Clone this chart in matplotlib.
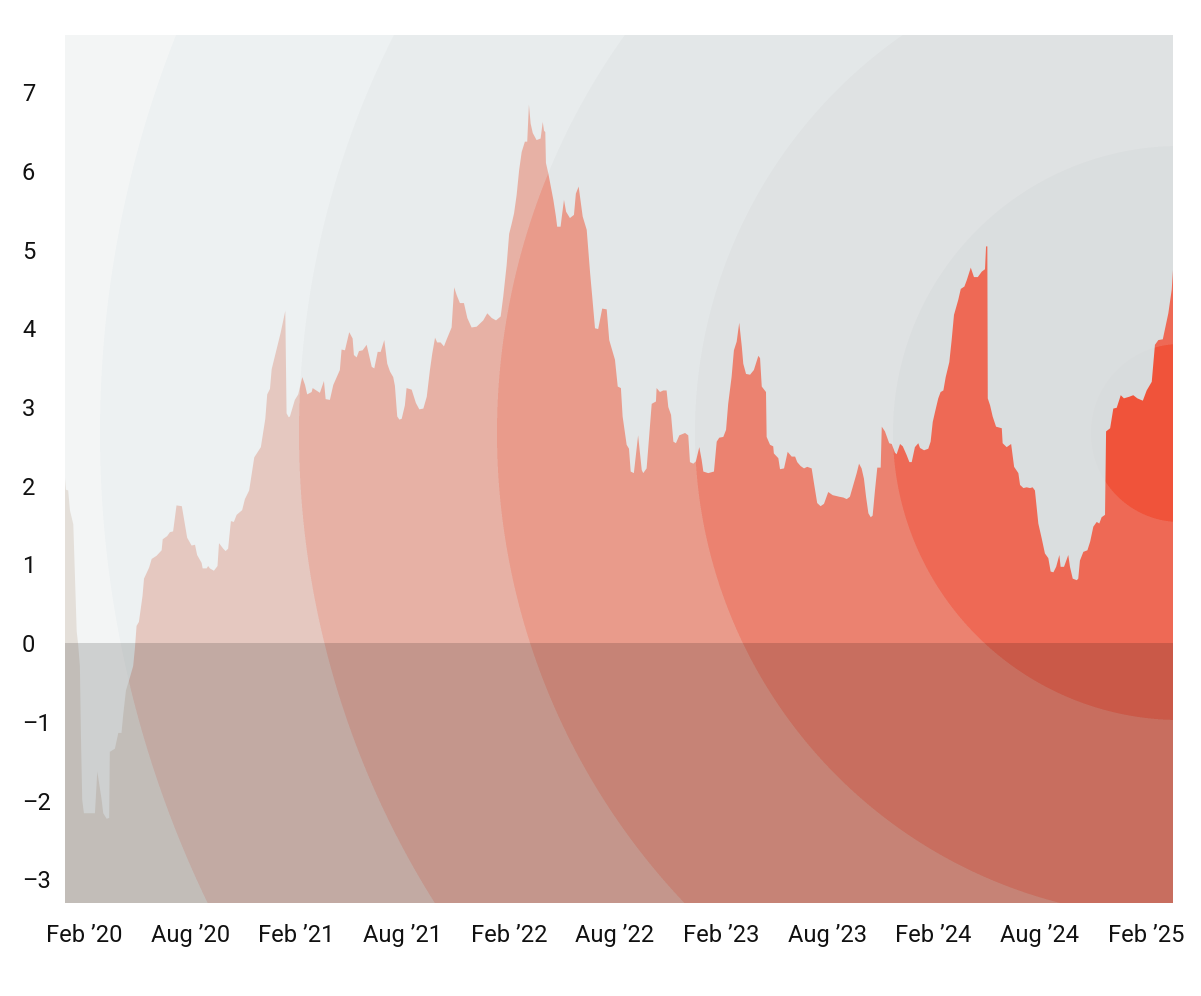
import numpy as np
import matplotlib
matplotlib.use("Agg")
import matplotlib.pyplot as plt
from matplotlib import font_manager
from matplotlib.colors import to_rgb
from matplotlib.patches import Polygon

# series (x in fractional years)
years = [
    2019.994, 2019.998, 2020.009, 2020.017, 2020.033, 2020.049, 2020.056, 2020.064, 2020.069, 2020.075,
    2020.083, 2020.127, 2020.135, 2020.146, 2020.166, 2020.174, 2020.190, 2020.202, 2020.205, 2020.229,
    2020.245, 2020.260, 2020.268, 2020.281, 2020.300, 2020.315, 2020.323, 2020.331, 2020.342, 2020.359,
    2020.366, 2020.390, 2020.402, 2020.425, 2020.449, 2020.454, 2020.475, 2020.488, 2020.503, 2020.519,
    2020.544, 2020.569, 2020.590, 2020.606, 2020.616, 2020.637, 2020.642, 2020.661, 2020.668, 2020.676,
    2020.695, 2020.712, 2020.719, 2020.739, 2020.750, 2020.762, 2020.775, 2020.789, 2020.802, 2020.828,
    2020.841, 2020.861, 2020.885, 2020.916, 2020.937, 2020.946, 2020.959, 2020.967, 2021.009, 2021.031,
    2021.037, 2021.047, 2021.053, 2021.076, 2021.092, 2021.111, 2021.124, 2021.134, 2021.155, 2021.160,
    2021.194, 2021.213, 2021.221, 2021.241, 2021.257, 2021.288, 2021.296, 2021.312, 2021.332, 2021.348,
    2021.354, 2021.367, 2021.378, 2021.395, 2021.414, 2021.438, 2021.450, 2021.466, 2021.480, 2021.497,
    2021.511, 2021.524, 2021.539, 2021.547, 2021.558, 2021.568, 2021.579, 2021.594, 2021.602, 2021.626,
    2021.646, 2021.662, 2021.681, 2021.697, 2021.712, 2021.723, 2021.736, 2021.746, 2021.762, 2021.778,
    2021.791, 2021.814, 2021.826, 2021.838, 2021.853, 2021.872, 2021.888, 2021.908, 2021.932, 2021.963,
    2021.982, 2022.003, 2022.023, 2022.045, 2022.057, 2022.073, 2022.085, 2022.097, 2022.108, 2022.120,
    2022.132, 2022.144, 2022.159, 2022.170, 2022.178, 2022.186, 2022.196, 2022.214, 2022.233, 2022.243,
    2022.249, 2022.255, 2022.258, 2022.269, 2022.293, 2022.305, 2022.311, 2022.327, 2022.332, 2022.343,
    2022.353, 2022.371, 2022.390, 2022.399, 2022.412, 2022.431, 2022.450, 2022.466, 2022.476, 2022.489,
    2022.504, 2022.523, 2022.544, 2022.556, 2022.583, 2022.596, 2022.611, 2022.619, 2022.638, 2022.649,
    2022.657, 2022.672, 2022.692, 2022.709, 2022.716, 2022.732, 2022.740, 2022.756, 2022.776, 2022.779,
    2022.795, 2022.810, 2022.826, 2022.834, 2022.847, 2022.858, 2022.870, 2022.886, 2022.913, 2022.928,
    2022.936, 2022.952, 2022.964, 2022.980, 2022.991, 2022.999, 2023.022, 2023.049, 2023.062, 2023.074,
    2023.093, 2023.106, 2023.116, 2023.132, 2023.143, 2023.156, 2023.168, 2023.180, 2023.187, 2023.200,
    2023.219, 2023.237, 2023.258, 2023.266, 2023.274, 2023.294, 2023.297, 2023.313, 2023.328, 2023.331,
    2023.352, 2023.360, 2023.379, 2023.396, 2023.415, 2023.431, 2023.441, 2023.457, 2023.473, 2023.488,
    2023.509, 2023.520, 2023.535, 2023.551, 2023.567, 2023.587, 2023.608, 2023.624, 2023.639, 2023.658,
    2023.674, 2023.689, 2023.705, 2023.721, 2023.732, 2023.744, 2023.755, 2023.765, 2023.776, 2023.787,
    2023.796, 2023.807, 2023.818, 2023.834, 2023.839, 2023.854, 2023.874, 2023.886, 2023.901, 2023.909,
    2023.925, 2023.938, 2023.956, 2023.969, 2023.980, 2023.995, 2024.011, 2024.019, 2024.038, 2024.058,
    2024.069, 2024.079, 2024.090, 2024.105, 2024.116, 2024.129, 2024.140, 2024.157, 2024.168, 2024.179,
    2024.199, 2024.211, 2024.228, 2024.239, 2024.258, 2024.273, 2024.291, 2024.310, 2024.325, 2024.330,
    2024.336, 2024.338, 2024.349, 2024.361, 2024.377, 2024.404, 2024.408, 2024.427, 2024.448, 2024.462,
    2024.482, 2024.490, 2024.506, 2024.521, 2024.537, 2024.549, 2024.560, 2024.576, 2024.592, 2024.607,
    2024.623, 2024.634, 2024.647, 2024.660, 2024.675, 2024.681, 2024.697, 2024.717, 2024.725, 2024.738,
    2024.757, 2024.764, 2024.772, 2024.788, 2024.807, 2024.820, 2024.835, 2024.851, 2024.863, 2024.874,
    2024.890, 2024.895, 2024.914, 2024.929, 2024.945, 2024.964, 2024.979, 2025.004, 2025.023, 2025.042,
    2025.068, 2025.086, 2025.110, 2025.125, 2025.141, 2025.162, 2025.188, 2025.204, 2025.210,
]
values = [
    2.09, 1.95, 1.94, 1.69, 1.51, 0.15, -0.02, -0.29, -1.18, -1.99,
    -2.16, -2.16, -2.16, -1.63, -1.98, -2.16, -2.23, -2.22, -1.38, -1.34,
    -1.14, -1.14, -0.91, -0.60, -0.43, -0.29, -0.07, 0.22, 0.27, 0.60,
    0.82, 0.96, 1.07, 1.11, 1.18, 1.32, 1.36, 1.41, 1.42, 1.75,
    1.74, 1.34, 1.24, 1.25, 1.12, 1.02, 0.95, 0.95, 0.98, 0.95,
    0.92, 0.98, 1.27, 1.20, 1.17, 1.20, 1.55, 1.54, 1.63, 1.69,
    1.83, 1.94, 2.36, 2.49, 2.85, 3.16, 3.23, 3.48, 3.94, 4.22,
    2.92, 2.87, 2.88, 3.09, 3.16, 3.38, 3.28, 3.16, 3.19, 3.24,
    3.18, 3.33, 3.10, 3.09, 3.28, 3.47, 3.73, 3.72, 3.95, 3.87,
    3.66, 3.63, 3.71, 3.72, 3.79, 3.51, 3.49, 3.70, 3.70, 3.85,
    3.55, 3.45, 3.38, 3.27, 2.88, 2.84, 2.85, 3.02, 3.24, 3.22,
    3.05, 2.97, 2.98, 3.13, 3.47, 3.68, 3.88, 3.82, 3.82, 3.77,
    3.86, 4.01, 4.52, 4.42, 4.32, 4.32, 4.13, 4.01, 4.02, 4.10,
    4.19, 4.13, 4.10, 4.15, 4.40, 4.80, 5.20, 5.33, 5.46, 5.69,
    6.01, 6.24, 6.37, 6.37, 6.84, 6.60, 6.48, 6.39, 6.41, 6.62,
    6.51, 6.49, 6.10, 5.97, 5.63, 5.42, 5.29, 5.29, 5.40, 5.63,
    5.48, 5.40, 5.44, 5.71, 5.80, 5.42, 5.25, 4.70, 4.40, 4.00,
    3.99, 4.25, 4.24, 3.85, 3.60, 3.26, 3.24, 2.88, 2.52, 2.47,
    2.18, 2.16, 2.64, 2.20, 2.16, 2.22, 2.49, 3.04, 3.07, 3.24,
    3.19, 3.21, 3.21, 3.00, 2.90, 2.56, 2.54, 2.64, 2.67, 2.64,
    2.30, 2.28, 2.31, 2.49, 2.33, 2.18, 2.16, 2.18, 2.56, 2.61,
    2.62, 2.71, 3.04, 3.38, 3.72, 3.83, 4.07, 3.77, 3.55, 3.42,
    3.41, 3.47, 3.65, 3.62, 3.26, 3.19, 2.62, 2.52, 2.50, 2.41,
    2.35, 2.21, 2.22, 2.43, 2.37, 2.37, 2.30, 2.25, 2.22, 2.24,
    2.22, 2.03, 1.78, 1.74, 1.77, 1.92, 1.88, 1.87, 1.86, 1.85,
    1.83, 1.86, 2.01, 2.16, 2.28, 2.22, 2.09, 1.86, 1.65, 1.60,
    1.62, 1.94, 2.23, 2.23, 2.75, 2.69, 2.54, 2.53, 2.42, 2.40,
    2.53, 2.50, 2.39, 2.30, 2.30, 2.49, 2.54, 2.48, 2.45, 2.47,
    2.56, 2.81, 2.94, 3.11, 3.19, 3.21, 3.38, 3.57, 3.85, 4.17,
    4.36, 4.50, 4.53, 4.61, 4.77, 4.65, 4.65, 4.72, 4.75, 5.04,
    5.04, 3.11, 3.02, 2.88, 2.75, 2.73, 2.54, 2.49, 2.53, 2.24,
    2.16, 2.01, 1.97, 1.98, 1.97, 1.98, 1.94, 1.52, 1.33, 1.14,
    1.08, 0.91, 0.90, 0.97, 1.12, 0.97, 0.97, 1.12, 0.97, 0.82,
    0.80, 0.82, 1.05, 1.16, 1.18, 1.29, 1.48, 1.54, 1.52, 1.60,
    1.63, 2.69, 2.73, 2.98, 2.99, 3.15, 3.11, 3.13, 3.15, 3.11,
    3.08, 3.21, 3.32, 3.79, 3.85, 3.86, 4.19, 4.49, 4.74,
]

tick_labels = ["Feb ’20", "Aug ’20", "Feb ’21", "Aug ’21", "Feb ’22", "Aug ’22",
               "Feb ’23", "Aug ’23", "Feb ’24", "Aug ’24", "Feb ’25"]
ytick_vals = [-3, -2, -1, 0, 1, 2, 3, 4, 5, 6, 7]
ytick_labels = ["–3", "–2", "–1", "0", "1", "2", "3", "4", "5", "6", "7"]

# concentric rings (innermost first)
red_rings = ["#F0533A", "#EE6A55", "#EB8270", "#E99B8B", "#E7B1A5", "#E5C8C0", "#E4DFDA"]
grey_rings = ["#D9DCDD", "#DBDEDF", "#DFE2E3", "#E3E7E8", "#E8ECED", "#EDF1F2", "#F4F6F6"]
radii = [89, 287, 485, 683, 881, 1080]

font = "Roboto"
for cand in ["Liberation Sans Narrow", "Roboto"]:
    try:
        font_manager.findfont(cand, fallback_to_default=False)
        font = cand
        break
    except Exception:
        pass
plt.rcParams["font.family"] = font

W, H = 1201, 996
ax_l, ax_t, ax_r, ax_b = 65, 35, 1173, 903
x0, x1 = 2019.994, 2025.210
y0, y1 = -3.30, 7.725

fig = plt.figure(figsize=(W / 100, H / 100), dpi=100)
ax = fig.add_axes([ax_l / W, 1 - ax_b / H, (ax_r - ax_l) / W, (ax_b - ax_t) / H])


def ring_image(colors, ss=3):
    pw, ph = ax_r - ax_l, ax_b - ax_t
    xs = ax_l + (np.arange(pw * ss) + 0.5) / ss
    ys = ax_t + (np.arange(ph * ss) + 0.5) / ss
    xx, yy = np.meshgrid(xs, ys)
    idx = np.searchsorted(radii, np.hypot(xx - 1180, yy - 433))
    rgb = np.array([to_rgb(c) for c in colors])[idx]
    return rgb.reshape(ph, ss, pw, ss, 3).mean(axis=(1, 3))


ext = [x0, x1, y0, y1]
ax.imshow(ring_image(grey_rings), extent=ext, aspect="auto",
          interpolation="nearest", origin="upper", zorder=1)
red_im = ax.imshow(ring_image(red_rings), extent=ext, aspect="auto",
                   interpolation="nearest", origin="upper", zorder=2)

verts = [(years[0], y0)] + list(zip(years, values)) + [(years[-1], y0)]
area = Polygon(verts, closed=True, facecolor="none", edgecolor="none",
               transform=ax.transData)
ax.add_patch(area)
red_im.set_clip_path(area)

# darker band below zero
ax.axhspan(y0, 0, color="black", alpha=0.15, lw=0, zorder=3)

ax.set_xlim(x0, x1)
ax.set_ylim(y0, y1)
ax.set_xticks([2020 + 1 / 12 + 0.5 * k for k in range(len(tick_labels))])
ax.set_xticklabels(tick_labels)
ax.set_yticks(ytick_vals)
ax.set_yticklabels(ytick_labels, ha="left")
ax.tick_params(axis="x", length=0, pad=15, labelsize=17, colors="#111111")
ax.tick_params(axis="y", length=0, pad=31, labelsize=17, colors="#111111")
for s in ax.spines.values():
    s.set_visible(False)

fig.savefig("out.png", dpi=100)
